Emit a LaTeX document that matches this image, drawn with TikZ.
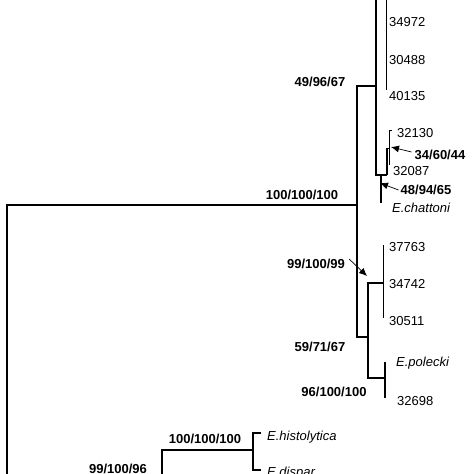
\documentclass[tikz,border=0pt]{standalone}
\usepackage{fontspec}
\setmainfont{Liberation Sans}
\usetikzlibrary{arrows.meta}

\tikzset{
  branch/.style={line width=1.3pt},
  comb/.style={line width=0.9pt},
  support/.style={font=\fontsize{13}{15}\selectfont\bfseries, inner sep=0pt},
  taxon/.style={font=\fontsize{13}{15}\selectfont, anchor=west, inner sep=0pt},
  species/.style={taxon, font=\fontsize{13}{15}\selectfont\itshape},
  pointer/.style={-{Latex[length=8pt,width=7pt]}, line width=0.7pt},
}

\begin{document}
\begin{tikzpicture}[x=1pt,y=-1pt]
  \clip (0,0) rectangle (474,474);
  \fill[white] (0,0) rectangle (474,474);
  % internal nodes
  \coordinate (root) at (7,500);
  \coordinate (nA) at (357,205);
  \coordinate (nD) at (376,86);
  \coordinate (nF) at (386,-20);
  \coordinate (nG) at (381,175);
  \coordinate (nH) at (387,175);
  \coordinate (nI) at (389,148);
  \coordinate (nE) at (368,337);
  \coordinate (nJ) at (383,283);
  \coordinate (nK) at (385,378);
  \coordinate (nB) at (162,500);
  \coordinate (nC) at (253,450);
  % tips
  \coordinate (t34972) at (386,22);
  \coordinate (t30488) at (386,60);
  \coordinate (t40135) at (386,90);
  \coordinate (t32130) at (392,130);
  \coordinate (t32087) at (389,165);
  \coordinate (tchat) at (381,203);
  \coordinate (t37763) at (383,245);
  \coordinate (t34742) at (383,283);
  \coordinate (t30511) at (383,318);
  \coordinate (tpol) at (385,362);
  \coordinate (t32698) at (385,398);
  \coordinate (thist) at (261,433);
  \coordinate (tdisp) at (261,470);

  \draw[branch] (root) |- (nA);
  \draw[branch] (root) |- (nB);
  \draw[branch] (nA) |- (nD);
  \draw[branch] (nA) |- (nE);
  \draw[branch] (nD) |- (nF);
  \draw[branch] (nD) |- (nG);
  \foreach \t in {t34972,t30488,t40135}
    \draw[comb] (nF) |- (\t);
  \draw[branch] (nG) -- (nH);
  \draw[branch] (nG) -- (tchat);
  \draw[branch, line width=1.8pt] (nH) -- (nH |- nI);
  \draw[comb] (nH |- nI) -- (nI);
  \draw[comb] (nI) |- (t32130);
  \draw[comb] (nI) -- (t32087);
  \draw[branch] (nE) |- (nJ);
  \draw[branch] (nE) |- (nK);
  \foreach \t in {t37763,t34742,t30511}
    \draw[comb] (nJ) |- (\t);
  \foreach \t in {tpol,t32698}
    \draw[branch] (nK) |- (\t);
  \draw[branch] (nB) |- (nC);
  \draw[branch] (nC) |- (thist);
  \draw[branch] (nC) |- (tdisp);

  \node[support] (s1) at (302,195) {100/100/100};
  \node[support] (s2) at (320,82) {49/96/67};
  \node[support] (s3) at (440,155) {34/60/44};
  \node[support] (s4) at (426,190) {48/94/65};
  \node[support] (s5) at (316,264) {99/100/99};
  \node[support] (s6) at (320,347) {59/71/67};
  \node[support] (s7) at (334,392) {96/100/100};
  \node[support] (s8) at (205,439) {100/100/100};
  \node[support] (s9) at (118,469) {99/100/96};

  \coordinate (p3) at (391,147);
  \coordinate (p4) at (380,183);
  \coordinate (p5) at (367,276);
  \draw[pointer] ([shift={(-3,-3)}]s3.west) -- (p3);
  \draw[pointer] ([xshift=-2pt]s4.west) -- (p4);
  \draw[pointer] ([shift={(4,-5)}]s5.east) -- (p5);

  \node[taxon] (l34972) at (389,22) {34972};
  \node[taxon] (l30488) at (389,60) {30488};
  \node[taxon] (l40135) at (389,96) {40135};
  \node[taxon] (l32130) at (397,133) {32130};
  \node[taxon] (l32087) at (393,171) {32087};
  \node[species] (lchat) at (392,208) {E.chattoni};
  \node[taxon] (l37763) at (389,247) {37763};
  \node[taxon] (l34742) at (389,284) {34742};
  \node[taxon] (l30511) at (389,321) {30511};
  \node[species] (lpol) at (396,363) {E.polecki};
  \node[taxon] (l32698) at (397,401) {32698};
  \node[species] (lhist) at (267,437) {E.histolytica};
  \node[species] (ldisp) at (267,473) {E.dispar};
\end{tikzpicture}
\end{document}
